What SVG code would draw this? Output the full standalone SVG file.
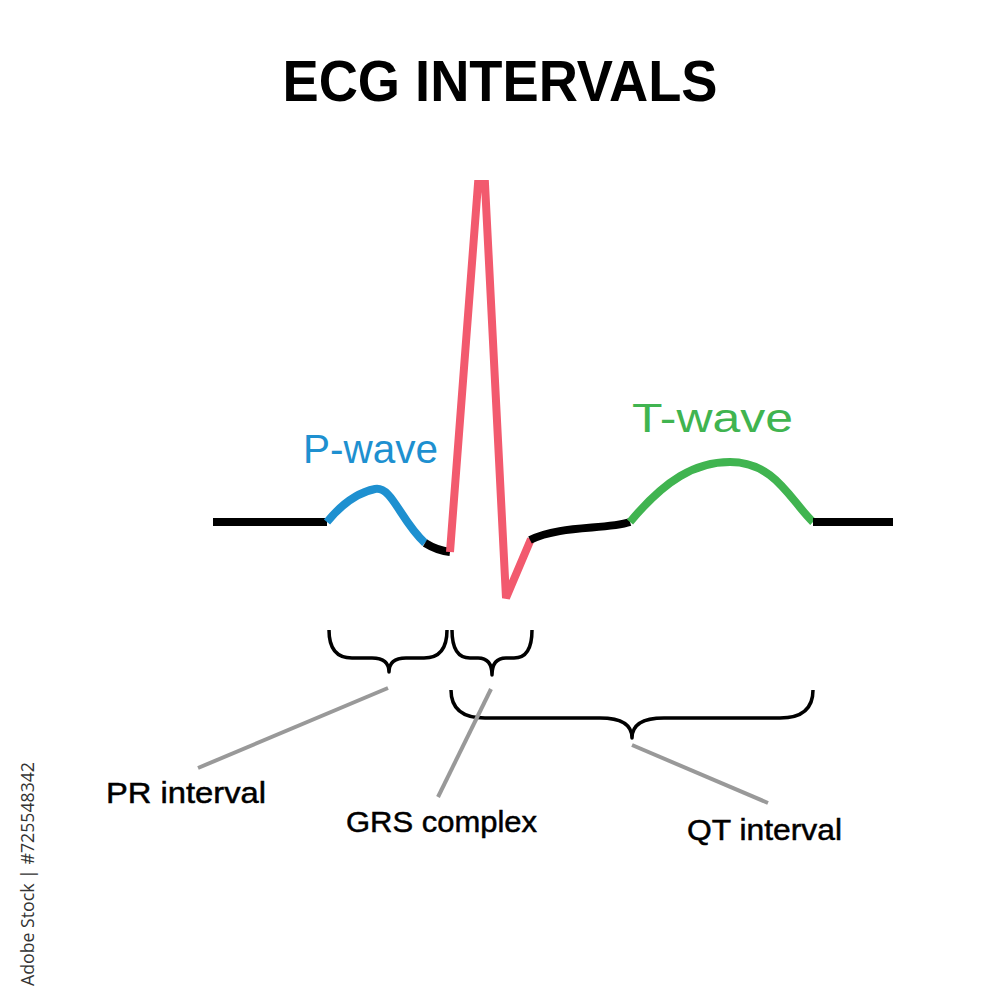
<svg xmlns="http://www.w3.org/2000/svg" width="1000" height="1000" viewBox="0 0 1000 1000">
<style>
.w{fill:none;stroke-width:8;stroke-linejoin:miter;stroke-linecap:butt}
.k{stroke:#000}
.b{stroke:#1E90D0}
.r{stroke:#F25A6E}
.g{stroke:#40B450}
.br{fill:none;stroke:#000;stroke-width:3.5;stroke-linejoin:round}
.ld{stroke:#999;stroke-width:4;fill:none}
.lab{font-family:"Liberation Sans",Arial,sans-serif;font-size:30px;fill:#000;stroke:#000;stroke-width:0.5}
</style>
<rect width="1000" height="1000" fill="#fff"/>
<text x="500" y="101" text-anchor="middle" font-family="Liberation Sans, Arial, sans-serif" font-weight="bold" font-size="58" textLength="435" lengthAdjust="spacingAndGlyphs">ECG INTERVALS</text>
<g id="waveform">
<path class="w k" d="M213,522 L327,522"/>
<path class="w b" d="M327,522 C345,500 360,492 375,489 C392,486 400,520 425,543"/>
<path class="w k" d="M425,543 C433,548 442,551 450,552"/>
<path class="w r" d="M450,552 L478,184 L485,184 L506,598 L531,539"/>
<path class="w k" d="M530,540 C560,525 605,530 630,522"/>
<path class="w g" d="M630,522 C665,480 695,462 730,462 C775,462 790,500 813,522"/>
<path class="w k" d="M813,522 L893,522"/>
</g>
<g id="p-wave-label"><text x="303" y="463" font-family="Liberation Sans, Arial, sans-serif" font-size="41" fill="#1E90D0" textLength="135" lengthAdjust="spacingAndGlyphs">P-wave</text></g>
<g id="t-wave-label"><text x="632" y="432" font-family="Liberation Sans, Arial, sans-serif" font-size="41" fill="#40B450" textLength="161" lengthAdjust="spacingAndGlyphs">T-wave</text></g>
<g id="braces">
<path class="br" d="M329,630 Q329,658 352,658 L372,658 Q389,658 389,672 Q389,658 406,658 L424,658 Q447,658 447,630"/>
<path class="br" d="M452,630 Q452,658 470,658 L478,658 Q492,658 492,675 Q492,658 506,658 L514,658 Q532,658 532,630"/>
<path class="br" d="M451,690 Q451,718 485,718 L600,718 Q632,718 632,738 Q632,718 664,718 L780,718 Q813,718 813,690"/>
</g>
<g id="connectors">
<line class="ld" x1="388" y1="688" x2="198" y2="768"/>
<line class="ld" x1="491" y1="689" x2="438" y2="797"/>
<line class="ld" x1="632" y1="745" x2="768" y2="803"/>
</g>
<g id="pr-interval"><text class="lab" x="106" y="803" textLength="160" lengthAdjust="spacingAndGlyphs">PR interval</text></g>
<g id="grs-complex"><text class="lab" x="346" y="832" textLength="191" lengthAdjust="spacingAndGlyphs">GRS complex</text></g>
<g id="qt-interval"><text class="lab" x="687" y="840" textLength="155" lengthAdjust="spacingAndGlyphs">QT interval</text></g>
<text transform="translate(34,986) rotate(-90)" font-family="Open Sans, Liberation Sans, sans-serif" font-size="19" fill="#333" textLength="224" lengthAdjust="spacingAndGlyphs">Adobe Stock | #725548342</text>
</svg>
